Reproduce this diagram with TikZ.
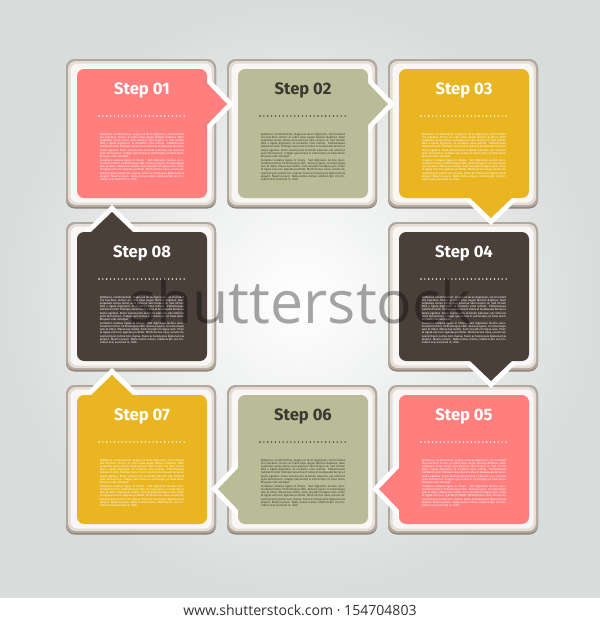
\documentclass[tikz,border=0pt]{standalone}
\usepackage{fontspec}
\setmainfont{Fira Sans}
\newfontfamily\footfont{Open Sans}
\usetikzlibrary{positioning}

\definecolor{bgedge}{HTML}{D8DCDB}
\definecolor{frameshade}{HTML}{8F8379}
\definecolor{frameedge}{HTML}{B3A89E}
\definecolor{framerim}{HTML}{E4DED7}
\definecolor{frameface}{HTML}{F8F7F5}
\definecolor{pinkcard}{HTML}{FF7E7E}
\definecolor{olivecard}{HTML}{B9BC97}
\definecolor{goldcard}{HTML}{E9B521}
\definecolor{browncard}{HTML}{4B4039}
\definecolor{darkink}{HTML}{3A3A2E}
\definecolor{footink}{HTML}{333333}

\newcommand{\fillertext}{Donec condimentum, magna ut lacus dignissim, vel tincidunt nisi faucibus. Donec ac nulla vitae augue facilisis dapibus. Nam vulputate varius tortor, quis pulvinar sem tempor at. Sed dictum felis a ligula dignissim, at molestie urna rutrum. Pellentesque habitant morbi tristique senectus et netus et malesuada fames ac turpis egestas. Fusce viverra eros vel dolor placerat, nec ultricies justo fermentum. Integer quis lectus in est tempor, ut vitae diam. Aliquam erat volutpat.\par\vspace{1pt}
Curabitur sodales ligula in libero. Sed dignissim lacinia nunc. Curabitur tortor. Pellentesque nibh. Aenean quam. In scelerisque sem at dolor. Maecenas mattis. Sed convallis tristique sem. Proin ut ligula vel nunc egestas porttitor. Morbi lectus risus, iaculis vel, suscipit quis, luctus non, massa. Fusce ac turpis quis ligula lacinia aliquet. Mauris ipsum. Nulla metus metus, ullamcorper vel, tincidunt sed, euismod in, nibh.}

% one coloured card: x, y of its frame, fill, ink, number
\newcommand{\stepcard}[5]{%
  \fill[#3, rounded corners=5pt] (#1+11,#2+10) rectangle (#1+141,#2+139);
  \node[steptitle, text=#4] (title#5) at (#1+76,#2+31) {Step #5};
  \draw[stepdots, draw=#4] (#1+33,#2+57) -- (#1+119,#2+57);
  \node[stepbody, text=#4] (body#5) at (#1+76,#2+74) {\fillertext};
}

\begin{document}
\begin{tikzpicture}[x=0.025cm, y=-0.025cm]
\tikzstyle{steptitle}=[font=\bfseries\fontsize{11.8}{12}\selectfont, inner sep=0pt]
\tikzstyle{stepdots}=[line width=1.1pt, line cap=round, dash pattern=on 0pt off 2.75pt]
\tikzstyle{stepbody}=[anchor=north, inner sep=0pt, text width=60pt, align=justify,
                      font=\fontsize{2.05}{2.2}\selectfont\lineskiplimit=-5pt]
\tikzstyle{tipwhite}=[fill=white]
\tikzstyle{watermark}=[font=\footfont\fontsize{42}{42}\selectfont, text=black, text opacity=0.35,
                       anchor=base, inner sep=0pt]

\useasboundingbox (0,0) rectangle (600,620);

% background
\shade[inner color=white, outer color=bgedge] (0,0) rectangle (600,598);
\fill[white] (0,598) rectangle (600,620);

% frames
\foreach \fx/\fy in {66/59, 227/59, 388/59, 388/222, 388/385, 227/385, 66/385, 66/222}{
  \fill[frameshade, rounded corners=6pt] (\fx,\fy+1.5) rectangle ++(150,148);
  \fill[frameedge, rounded corners=6pt] (\fx,\fy) rectangle ++(150,148);
  \fill[framerim, rounded corners=5.5pt] (\fx+2,\fy+2) rectangle ++(146,144);
  \fill[frameface, rounded corners=5pt] (\fx+4.5,\fy+4.5) rectangle ++(141,139);
}

% white borders of the pointers
\fill[tipwhite] (205,74) -- (234,104) -- (205,134) -- cycle;
\fill[tipwhite] (366,74) -- (395,104) -- (366,134) -- cycle;
\fill[tipwhite] (461,196) -- (491,225) -- (521,196) -- cycle;
\fill[tipwhite] (461,359) -- (491,388) -- (521,359) -- cycle;
\fill[tipwhite] (401,459) -- (372,489) -- (401,519) -- cycle;
\fill[tipwhite] (240,459) -- (211,489) -- (240,519) -- cycle;
\fill[tipwhite] (82,397) -- (112,368) -- (142,397) -- cycle;
\fill[tipwhite] (82,234) -- (112,205) -- (142,234) -- cycle;

% pointers
\fill[pinkcard] (205,81) -- (227,104) -- (205,127) -- cycle;
\fill[olivecard] (366,81) -- (388,104) -- (366,127) -- cycle;
\fill[goldcard] (468,196) -- (491,218) -- (514,196) -- cycle;
\fill[browncard] (468,359) -- (491,381) -- (514,359) -- cycle;
\fill[pinkcard] (401,466) -- (379,489) -- (401,512) -- cycle;
\fill[olivecard] (240,466) -- (218,489) -- (240,512) -- cycle;
\fill[goldcard] (89,397) -- (112,375) -- (135,397) -- cycle;
\fill[browncard] (89,234) -- (112,212) -- (135,234) -- cycle;

% cards
\stepcard{66}{59}{pinkcard}{white}{01}
\stepcard{227}{59}{olivecard}{darkink}{02}
\stepcard{388}{59}{goldcard}{white}{03}
\stepcard{388}{222}{browncard}{white}{04}
\stepcard{388}{385}{pinkcard}{white}{05}
\stepcard{227}{385}{olivecard}{darkink}{06}
\stepcard{66}{385}{goldcard}{white}{07}
\stepcard{66}{222}{browncard}{white}{08}

\node[watermark] (mark) at (300,323) {shutterstock};
\node[font=\footfont\fontsize{10}{10}\selectfont, text=footink] (foot) at (300,610) {www.shutterstock.com · 154704803};
\end{tikzpicture}
\end{document}
